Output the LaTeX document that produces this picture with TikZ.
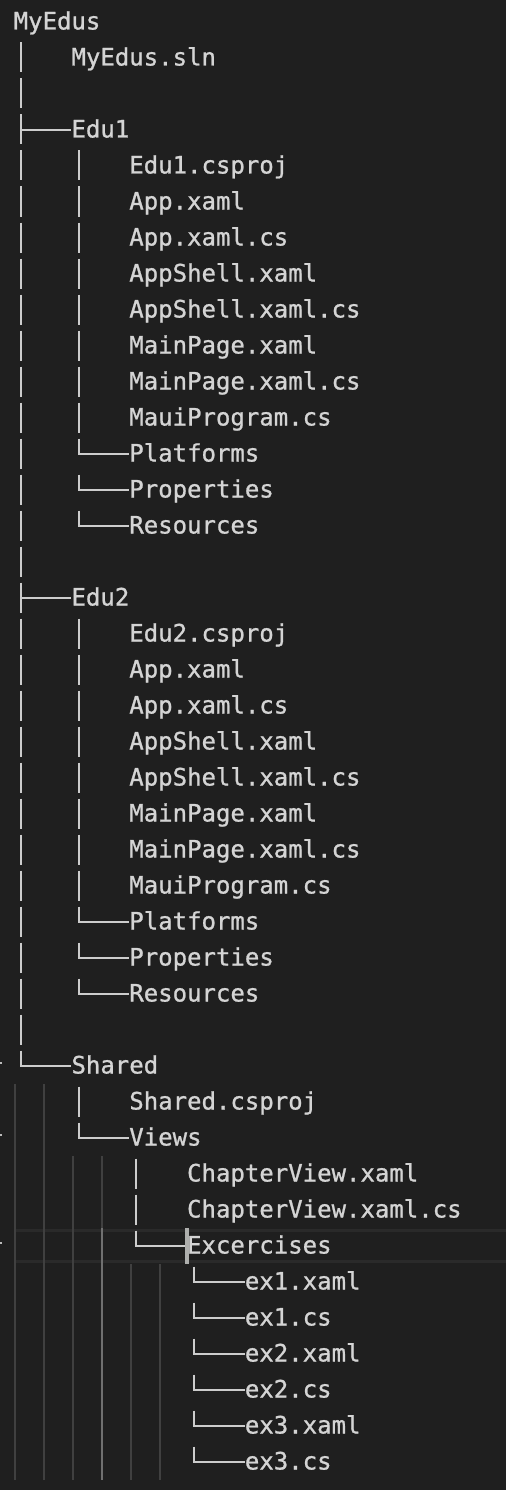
\documentclass[tikz,border=0pt]{standalone}
\usepackage{fontspec}
\newfontfamily\codefont{DejaVu Sans Mono}[FakeBold=1]
\definecolor{bg}{HTML}{1F1F1F}
\definecolor{txt}{HTML}{D4D4D4}
\definecolor{treeclr}{HTML}{CCCCCC}
\definecolor{guide}{HTML}{404040}
\definecolor{guideact}{HTML}{707070}
\definecolor{curline}{HTML}{2A2A2A}
\definecolor{cursorclr}{HTML}{AEAFAD}
\definecolor{foldmark}{HTML}{BBBBBB}
\tikzset{
  entry/.style={anchor=base west, inner sep=0pt, font=\codefont\fontsize{24}{24}\selectfont, text=txt},
  treeline/.style={draw=treeclr, line width=2pt, line cap=butt},
  guideline/.style={draw=guide, line width=2pt},
  activeguide/.style={draw=guideact, line width=2pt},
}
\begin{document}
\begin{tikzpicture}[x=1pt, y=-1pt]
\useasboundingbox (0,0) rectangle (506,1490);
\fill[bg] (0,0) rectangle (506,1490);
% current line highlight (row 34)
\fill[curline] (16,1228.5) rectangle (506,1231.5);
\fill[curline] (16,1260) rectangle (506,1263);
% indent guides
\foreach \gx in {15,44} \draw[guideline] (\gx,1084) -- (\gx,1480);
\draw[guideline] (73,1156) -- (73,1480);
\draw[guideline] (102,1156) -- (102,1228);
\draw[activeguide] (102,1228) -- (102,1480);
\foreach \gx in {131,160} \draw[guideline] (\gx,1264) -- (\gx,1480);
% fold marks at the left edge
\foreach \r in {29,31,34} \fill[foldmark] (0,{22+36*\r-4.5}) rectangle (2,{22+36*\r-2});
% entries
\foreach \r/\c/\t in {
  0/0/MyEdus, 1/4/MyEdus.sln, 3/4/Edu1,
  4/8/Edu1.csproj, 5/8/App.xaml, 6/8/App.xaml.cs, 7/8/AppShell.xaml, 8/8/AppShell.xaml.cs,
  9/8/MainPage.xaml, 10/8/MainPage.xaml.cs, 11/8/MauiProgram.cs,
  12/8/Platforms, 13/8/Properties, 14/8/Resources,
  16/4/Edu2,
  17/8/Edu2.csproj, 18/8/App.xaml, 19/8/App.xaml.cs, 20/8/AppShell.xaml, 21/8/AppShell.xaml.cs,
  22/8/MainPage.xaml, 23/8/MainPage.xaml.cs, 24/8/MauiProgram.cs,
  25/8/Platforms, 26/8/Properties, 27/8/Resources,
  29/4/Shared, 30/8/Shared.csproj, 31/8/Views,
  32/12/ChapterView.xaml, 33/12/ChapterView.xaml.cs, 34/12/Excercises,
  35/16/ex1.xaml, 36/16/ex1.cs, 37/16/ex2.xaml, 38/16/ex2.cs, 39/16/ex3.xaml, 40/16/ex3.cs}
  \node[entry] (n\r) at ({13.5+14.45*\c},{29.5+36*\r}) {\t};
% tree: full vertical bars
\foreach \r in {1,...,28} \draw[treeline] (21,{22+36*\r-15.5}) -- (21,{22+36*\r+14.5});
\foreach \r in {4,...,11,17,18,...,24,30} \draw[treeline] (78.6,{22+36*\r-15.5}) -- (78.6,{22+36*\r+14.5});
\foreach \r in {32,33} \draw[treeline] (136.2,{22+36*\r-15.5}) -- (136.2,{22+36*\r+14.5});
% tee branches (level 0)
\foreach \r in {3,16} \draw[treeline] (21,{22+36*\r}) -- ([yshift=7.5pt]n\r.base west);
% corner branches
\foreach \r in {29} \draw[treeline] (21,{22+36*\r-15.5}) -- (21,{22+36*\r}) -- ([yshift=7.5pt]n\r.base west);
\foreach \r in {12,13,14,25,26,27,31} \draw[treeline] (78.6,{22+36*\r-15.5}) -- (78.6,{22+36*\r}) -- ([yshift=7.5pt]n\r.base west);
\foreach \r in {34} \draw[treeline] (136.2,{22+36*\r-15.5}) -- (136.2,{22+36*\r}) -- ([xshift=-1.5pt,yshift=7.5pt]n\r.base west);
\foreach \r in {35,...,40} \draw[treeline] (193.8,{22+36*\r-15.5}) -- (193.8,{22+36*\r}) -- ([yshift=7.5pt]n\r.base west);
% cursor
\fill[cursorclr] (185,1228) rectangle (189,1264);
\end{tikzpicture}
\end{document}
